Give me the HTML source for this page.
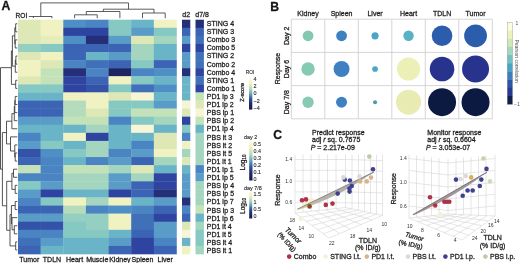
<!DOCTYPE html>
<html><head><meta charset="utf-8"><style>
html,body{margin:0;padding:0;background:#fff;overflow:hidden;}
svg{display:block;}
text{font-family:"Liberation Sans",Arial,sans-serif;fill:#1e1e1e;stroke:#1e1e1e;stroke-width:0.28px;}
.t7{font-size:7px;}
.t7i{font-size:7px;font-style:italic;}
.t6{font-size:6.4px;}
.t66{font-size:6.6px;}
.t5{font-size:5.4px;stroke-width:0.1px;}
.t6z{font-size:6px;}
.t65{font-size:6.5px;}
.t4{font-size:5px;stroke:none;fill:#333;}
.lab{font-size:12.2px;font-weight:bold;fill:#111;}
</style></head><body>
<svg width="520" height="263" viewBox="0 0 520 263">
<rect width="520" height="263" fill="#fff"/>
<rect x="18.00" y="19.70" width="22.94" height="8.38" fill="#dde8b6"/>
<rect x="40.64" y="19.70" width="22.94" height="8.38" fill="#f1f2c2"/>
<rect x="63.28" y="19.70" width="22.94" height="8.38" fill="#4e90c6"/>
<rect x="85.92" y="19.70" width="22.94" height="8.38" fill="#4a84c3"/>
<rect x="108.56" y="19.70" width="22.94" height="8.38" fill="#86c9c3"/>
<rect x="131.20" y="19.70" width="22.94" height="8.38" fill="#6ab4c8"/>
<rect x="153.84" y="19.70" width="22.94" height="8.38" fill="#f1f2c2"/>
<rect x="18.00" y="27.78" width="22.94" height="8.38" fill="#dde8b6"/>
<rect x="40.64" y="27.78" width="22.94" height="8.38" fill="#f1f2c2"/>
<rect x="63.28" y="27.78" width="22.94" height="8.38" fill="#2e44a0"/>
<rect x="85.92" y="27.78" width="22.94" height="8.38" fill="#2e44a0"/>
<rect x="108.56" y="27.78" width="22.94" height="8.38" fill="#86c9c3"/>
<rect x="131.20" y="27.78" width="22.94" height="8.38" fill="#5a9cc8"/>
<rect x="153.84" y="27.78" width="22.94" height="8.38" fill="#86c9c3"/>
<rect x="18.00" y="35.86" width="22.94" height="8.38" fill="#dde8b6"/>
<rect x="40.64" y="35.86" width="22.94" height="8.38" fill="#e6ecba"/>
<rect x="63.28" y="35.86" width="22.94" height="8.38" fill="#4e90c6"/>
<rect x="85.92" y="35.86" width="22.94" height="8.38" fill="#252e78"/>
<rect x="108.56" y="35.86" width="22.94" height="8.38" fill="#5a9cc8"/>
<rect x="131.20" y="35.86" width="22.94" height="8.38" fill="#dde8b6"/>
<rect x="153.84" y="35.86" width="22.94" height="8.38" fill="#a3d5bf"/>
<rect x="18.00" y="43.94" width="22.94" height="8.38" fill="#94cfc2"/>
<rect x="40.64" y="43.94" width="22.94" height="8.38" fill="#86c9c3"/>
<rect x="63.28" y="43.94" width="22.94" height="8.38" fill="#3c64b4"/>
<rect x="85.92" y="43.94" width="22.94" height="8.38" fill="#3c64b4"/>
<rect x="108.56" y="43.94" width="22.94" height="8.38" fill="#3c64b4"/>
<rect x="131.20" y="43.94" width="22.94" height="8.38" fill="#a3d5bf"/>
<rect x="153.84" y="43.94" width="22.94" height="8.38" fill="#6ab4c8"/>
<rect x="18.00" y="52.02" width="22.94" height="8.38" fill="#dde8b6"/>
<rect x="40.64" y="52.02" width="22.94" height="8.38" fill="#f1f2c2"/>
<rect x="63.28" y="52.02" width="22.94" height="8.38" fill="#3c64b4"/>
<rect x="85.92" y="52.02" width="22.94" height="8.38" fill="#6ab4c8"/>
<rect x="108.56" y="52.02" width="22.94" height="8.38" fill="#5a9cc8"/>
<rect x="131.20" y="52.02" width="22.94" height="8.38" fill="#a3d5bf"/>
<rect x="153.84" y="52.02" width="22.94" height="8.38" fill="#6ab4c8"/>
<rect x="18.00" y="60.10" width="22.94" height="8.38" fill="#f1f2c2"/>
<rect x="40.64" y="60.10" width="22.94" height="8.38" fill="#dde8b6"/>
<rect x="63.28" y="60.10" width="22.94" height="8.38" fill="#4a84c3"/>
<rect x="85.92" y="60.10" width="22.94" height="8.38" fill="#4070b8"/>
<rect x="108.56" y="60.10" width="22.94" height="8.38" fill="#3c64b4"/>
<rect x="131.20" y="60.10" width="22.94" height="8.38" fill="#86c9c3"/>
<rect x="153.84" y="60.10" width="22.94" height="8.38" fill="#3c64b4"/>
<rect x="18.00" y="68.18" width="22.94" height="8.38" fill="#f1f2c2"/>
<rect x="40.64" y="68.18" width="22.94" height="8.38" fill="#c4e2b8"/>
<rect x="63.28" y="68.18" width="22.94" height="8.38" fill="#252e78"/>
<rect x="85.92" y="68.18" width="22.94" height="8.38" fill="#4a84c3"/>
<rect x="108.56" y="68.18" width="22.94" height="8.38" fill="#1c2462"/>
<rect x="131.20" y="68.18" width="22.94" height="8.38" fill="#4a84c3"/>
<rect x="153.84" y="68.18" width="22.94" height="8.38" fill="#4e90c6"/>
<rect x="18.00" y="76.26" width="22.94" height="8.38" fill="#dde8b6"/>
<rect x="40.64" y="76.26" width="22.94" height="8.38" fill="#c4e2b8"/>
<rect x="63.28" y="76.26" width="22.94" height="8.38" fill="#2e44a0"/>
<rect x="85.92" y="76.26" width="22.94" height="8.38" fill="#3c64b4"/>
<rect x="108.56" y="76.26" width="22.94" height="8.38" fill="#f1f2c2"/>
<rect x="131.20" y="76.26" width="22.94" height="8.38" fill="#86c9c3"/>
<rect x="153.84" y="76.26" width="22.94" height="8.38" fill="#6ab4c8"/>
<rect x="18.00" y="84.34" width="22.94" height="8.38" fill="#86c9c3"/>
<rect x="40.64" y="84.34" width="22.94" height="8.38" fill="#86c9c3"/>
<rect x="63.28" y="84.34" width="22.94" height="8.38" fill="#2e44a0"/>
<rect x="85.92" y="84.34" width="22.94" height="8.38" fill="#3452a8"/>
<rect x="108.56" y="84.34" width="22.94" height="8.38" fill="#86c9c3"/>
<rect x="131.20" y="84.34" width="22.94" height="8.38" fill="#4070b8"/>
<rect x="153.84" y="84.34" width="22.94" height="8.38" fill="#4e90c6"/>
<rect x="18.00" y="92.42" width="22.94" height="8.38" fill="#6ab4c8"/>
<rect x="40.64" y="92.42" width="22.94" height="8.38" fill="#6ab4c8"/>
<rect x="63.28" y="92.42" width="22.94" height="8.38" fill="#f1f2c2"/>
<rect x="85.92" y="92.42" width="22.94" height="8.38" fill="#f1f2c2"/>
<rect x="108.56" y="92.42" width="22.94" height="8.38" fill="#dde8b6"/>
<rect x="131.20" y="92.42" width="22.94" height="8.38" fill="#f7f5d6"/>
<rect x="153.84" y="92.42" width="22.94" height="8.38" fill="#6ab4c8"/>
<rect x="18.00" y="100.50" width="22.94" height="8.38" fill="#3c64b4"/>
<rect x="40.64" y="100.50" width="22.94" height="8.38" fill="#3c64b4"/>
<rect x="63.28" y="100.50" width="22.94" height="8.38" fill="#b4dcbc"/>
<rect x="85.92" y="100.50" width="22.94" height="8.38" fill="#f1f2c2"/>
<rect x="108.56" y="100.50" width="22.94" height="8.38" fill="#86c9c3"/>
<rect x="131.20" y="100.50" width="22.94" height="8.38" fill="#86c9c3"/>
<rect x="153.84" y="100.50" width="22.94" height="8.38" fill="#5a9cc8"/>
<rect x="18.00" y="108.58" width="22.94" height="8.38" fill="#3c64b4"/>
<rect x="40.64" y="108.58" width="22.94" height="8.38" fill="#3c64b4"/>
<rect x="63.28" y="108.58" width="22.94" height="8.38" fill="#b4dcbc"/>
<rect x="85.92" y="108.58" width="22.94" height="8.38" fill="#dde8b6"/>
<rect x="108.56" y="108.58" width="22.94" height="8.38" fill="#86c9c3"/>
<rect x="131.20" y="108.58" width="22.94" height="8.38" fill="#c4e2b8"/>
<rect x="153.84" y="108.58" width="22.94" height="8.38" fill="#c4e2b8"/>
<rect x="18.00" y="116.66" width="22.94" height="8.38" fill="#5a9cc8"/>
<rect x="40.64" y="116.66" width="22.94" height="8.38" fill="#5a9cc8"/>
<rect x="63.28" y="116.66" width="22.94" height="8.38" fill="#c4e2b8"/>
<rect x="85.92" y="116.66" width="22.94" height="8.38" fill="#c4e2b8"/>
<rect x="108.56" y="116.66" width="22.94" height="8.38" fill="#4a84c3"/>
<rect x="131.20" y="116.66" width="22.94" height="8.38" fill="#86c9c3"/>
<rect x="153.84" y="116.66" width="22.94" height="8.38" fill="#a3d5bf"/>
<rect x="18.00" y="124.74" width="22.94" height="8.38" fill="#6ab4c8"/>
<rect x="40.64" y="124.74" width="22.94" height="8.38" fill="#6ab4c8"/>
<rect x="63.28" y="124.74" width="22.94" height="8.38" fill="#6ab4c8"/>
<rect x="85.92" y="124.74" width="22.94" height="8.38" fill="#a3d5bf"/>
<rect x="108.56" y="124.74" width="22.94" height="8.38" fill="#6ab4c8"/>
<rect x="131.20" y="124.74" width="22.94" height="8.38" fill="#f7f5d6"/>
<rect x="153.84" y="124.74" width="22.94" height="8.38" fill="#6ab4c8"/>
<rect x="18.00" y="132.82" width="22.94" height="8.38" fill="#4a84c3"/>
<rect x="40.64" y="132.82" width="22.94" height="8.38" fill="#6ab4c8"/>
<rect x="63.28" y="132.82" width="22.94" height="8.38" fill="#f1f2c2"/>
<rect x="85.92" y="132.82" width="22.94" height="8.38" fill="#2e44a0"/>
<rect x="108.56" y="132.82" width="22.94" height="8.38" fill="#6ab4c8"/>
<rect x="131.20" y="132.82" width="22.94" height="8.38" fill="#6ab4c8"/>
<rect x="153.84" y="132.82" width="22.94" height="8.38" fill="#dde8b6"/>
<rect x="18.00" y="140.90" width="22.94" height="8.38" fill="#5a9cc8"/>
<rect x="40.64" y="140.90" width="22.94" height="8.38" fill="#86c9c3"/>
<rect x="63.28" y="140.90" width="22.94" height="8.38" fill="#6ab4c8"/>
<rect x="85.92" y="140.90" width="22.94" height="8.38" fill="#a3d5bf"/>
<rect x="108.56" y="140.90" width="22.94" height="8.38" fill="#6ab4c8"/>
<rect x="131.20" y="140.90" width="22.94" height="8.38" fill="#4a84c3"/>
<rect x="153.84" y="140.90" width="22.94" height="8.38" fill="#dde8b6"/>
<rect x="18.00" y="148.98" width="22.94" height="8.38" fill="#3452a8"/>
<rect x="40.64" y="148.98" width="22.94" height="8.38" fill="#4e90c6"/>
<rect x="63.28" y="148.98" width="22.94" height="8.38" fill="#86c9c3"/>
<rect x="85.92" y="148.98" width="22.94" height="8.38" fill="#a3d5bf"/>
<rect x="108.56" y="148.98" width="22.94" height="8.38" fill="#4a84c3"/>
<rect x="131.20" y="148.98" width="22.94" height="8.38" fill="#5a9cc8"/>
<rect x="153.84" y="148.98" width="22.94" height="8.38" fill="#f1f2c2"/>
<rect x="18.00" y="157.06" width="22.94" height="8.38" fill="#3c64b4"/>
<rect x="40.64" y="157.06" width="22.94" height="8.38" fill="#4a84c3"/>
<rect x="63.28" y="157.06" width="22.94" height="8.38" fill="#6ab4c8"/>
<rect x="85.92" y="157.06" width="22.94" height="8.38" fill="#4a84c3"/>
<rect x="108.56" y="157.06" width="22.94" height="8.38" fill="#5a9cc8"/>
<rect x="131.20" y="157.06" width="22.94" height="8.38" fill="#3c64b4"/>
<rect x="153.84" y="157.06" width="22.94" height="8.38" fill="#a3d5bf"/>
<rect x="18.00" y="165.14" width="22.94" height="8.38" fill="#c4e2b8"/>
<rect x="40.64" y="165.14" width="22.94" height="8.38" fill="#4a84c3"/>
<rect x="63.28" y="165.14" width="22.94" height="8.38" fill="#c4e2b8"/>
<rect x="85.92" y="165.14" width="22.94" height="8.38" fill="#c4e2b8"/>
<rect x="108.56" y="165.14" width="22.94" height="8.38" fill="#a3d5bf"/>
<rect x="131.20" y="165.14" width="22.94" height="8.38" fill="#dde8b6"/>
<rect x="153.84" y="165.14" width="22.94" height="8.38" fill="#6ab4c8"/>
<rect x="18.00" y="173.22" width="22.94" height="8.38" fill="#4a84c3"/>
<rect x="40.64" y="173.22" width="22.94" height="8.38" fill="#4a84c3"/>
<rect x="63.28" y="173.22" width="22.94" height="8.38" fill="#a3d5bf"/>
<rect x="85.92" y="173.22" width="22.94" height="8.38" fill="#a3d5bf"/>
<rect x="108.56" y="173.22" width="22.94" height="8.38" fill="#5a9cc8"/>
<rect x="131.20" y="173.22" width="22.94" height="8.38" fill="#a3d5bf"/>
<rect x="153.84" y="173.22" width="22.94" height="8.38" fill="#2e44a0"/>
<rect x="18.00" y="181.30" width="22.94" height="8.38" fill="#86c9c3"/>
<rect x="40.64" y="181.30" width="22.94" height="8.38" fill="#5a9cc8"/>
<rect x="63.28" y="181.30" width="22.94" height="8.38" fill="#a3d5bf"/>
<rect x="85.92" y="181.30" width="22.94" height="8.38" fill="#a3d5bf"/>
<rect x="108.56" y="181.30" width="22.94" height="8.38" fill="#5a9cc8"/>
<rect x="131.20" y="181.30" width="22.94" height="8.38" fill="#3c64b4"/>
<rect x="153.84" y="181.30" width="22.94" height="8.38" fill="#2e44a0"/>
<rect x="18.00" y="189.38" width="22.94" height="8.38" fill="#5a9cc8"/>
<rect x="40.64" y="189.38" width="22.94" height="8.38" fill="#2e44a0"/>
<rect x="63.28" y="189.38" width="22.94" height="8.38" fill="#6ab4c8"/>
<rect x="85.92" y="189.38" width="22.94" height="8.38" fill="#6ab4c8"/>
<rect x="108.56" y="189.38" width="22.94" height="8.38" fill="#2e44a0"/>
<rect x="131.20" y="189.38" width="22.94" height="8.38" fill="#3c64b4"/>
<rect x="153.84" y="189.38" width="22.94" height="8.38" fill="#252e78"/>
<rect x="18.00" y="197.46" width="22.94" height="8.38" fill="#4a84c3"/>
<rect x="40.64" y="197.46" width="22.94" height="8.38" fill="#86c9c3"/>
<rect x="63.28" y="197.46" width="22.94" height="8.38" fill="#f1f2c2"/>
<rect x="85.92" y="197.46" width="22.94" height="8.38" fill="#a3d5bf"/>
<rect x="108.56" y="197.46" width="22.94" height="8.38" fill="#f1f2c2"/>
<rect x="131.20" y="197.46" width="22.94" height="8.38" fill="#6ab4c8"/>
<rect x="153.84" y="197.46" width="22.94" height="8.38" fill="#5a9cc8"/>
<rect x="18.00" y="205.54" width="22.94" height="8.38" fill="#3c64b4"/>
<rect x="40.64" y="205.54" width="22.94" height="8.38" fill="#3c64b4"/>
<rect x="63.28" y="205.54" width="22.94" height="8.38" fill="#b4dcbc"/>
<rect x="85.92" y="205.54" width="22.94" height="8.38" fill="#4a84c3"/>
<rect x="108.56" y="205.54" width="22.94" height="8.38" fill="#4e90c6"/>
<rect x="131.20" y="205.54" width="22.94" height="8.38" fill="#4a84c3"/>
<rect x="153.84" y="205.54" width="22.94" height="8.38" fill="#3c64b4"/>
<rect x="18.00" y="213.62" width="22.94" height="8.38" fill="#5a9cc8"/>
<rect x="40.64" y="213.62" width="22.94" height="8.38" fill="#5a9cc8"/>
<rect x="63.28" y="213.62" width="22.94" height="8.38" fill="#94cfc2"/>
<rect x="85.92" y="213.62" width="22.94" height="8.38" fill="#94cfc2"/>
<rect x="108.56" y="213.62" width="22.94" height="8.38" fill="#f1f2c2"/>
<rect x="131.20" y="213.62" width="22.94" height="8.38" fill="#4070b8"/>
<rect x="153.84" y="213.62" width="22.94" height="8.38" fill="#2e44a0"/>
<rect x="18.00" y="221.70" width="22.94" height="8.38" fill="#3452a8"/>
<rect x="40.64" y="221.70" width="22.94" height="8.38" fill="#3452a8"/>
<rect x="63.28" y="221.70" width="22.94" height="8.38" fill="#86c9c3"/>
<rect x="85.92" y="221.70" width="22.94" height="8.38" fill="#94cfc2"/>
<rect x="108.56" y="221.70" width="22.94" height="8.38" fill="#f1f2c2"/>
<rect x="131.20" y="221.70" width="22.94" height="8.38" fill="#4070b8"/>
<rect x="153.84" y="221.70" width="22.94" height="8.38" fill="#5a9cc8"/>
<rect x="18.00" y="229.78" width="22.94" height="8.38" fill="#4a84c3"/>
<rect x="40.64" y="229.78" width="22.94" height="8.38" fill="#4a84c3"/>
<rect x="63.28" y="229.78" width="22.94" height="8.38" fill="#86c9c3"/>
<rect x="85.92" y="229.78" width="22.94" height="8.38" fill="#86c9c3"/>
<rect x="108.56" y="229.78" width="22.94" height="8.38" fill="#6ab4c8"/>
<rect x="131.20" y="229.78" width="22.94" height="8.38" fill="#3c64b4"/>
<rect x="153.84" y="229.78" width="22.94" height="8.38" fill="#5a9cc8"/>
<rect x="18.00" y="237.86" width="22.94" height="8.38" fill="#4070b8"/>
<rect x="40.64" y="237.86" width="22.94" height="8.38" fill="#5a9cc8"/>
<rect x="63.28" y="237.86" width="22.94" height="8.38" fill="#6ab4c8"/>
<rect x="85.92" y="237.86" width="22.94" height="8.38" fill="#6ab4c8"/>
<rect x="108.56" y="237.86" width="22.94" height="8.38" fill="#5a9cc8"/>
<rect x="131.20" y="237.86" width="22.94" height="8.38" fill="#2e44a0"/>
<rect x="153.84" y="237.86" width="22.94" height="8.38" fill="#4a84c3"/>
<rect x="18.00" y="245.94" width="22.94" height="8.38" fill="#3c64b4"/>
<rect x="40.64" y="245.94" width="22.94" height="8.38" fill="#6ab4c8"/>
<rect x="63.28" y="245.94" width="22.94" height="8.38" fill="#6ab4c8"/>
<rect x="85.92" y="245.94" width="22.94" height="8.38" fill="#6ab4c8"/>
<rect x="108.56" y="245.94" width="22.94" height="8.38" fill="#3c64b4"/>
<rect x="131.20" y="245.94" width="22.94" height="8.38" fill="#2e44a0"/>
<rect x="153.84" y="245.94" width="22.94" height="8.38" fill="#3c64b4"/>
<rect x="182" y="19.70" width="8.3" height="8.38" fill="#252e78"/>
<rect x="182" y="27.78" width="8.3" height="8.38" fill="#3c64b4"/>
<rect x="182" y="35.86" width="8.3" height="8.38" fill="#5a9cc8"/>
<rect x="182" y="43.94" width="8.3" height="8.38" fill="#2e44a0"/>
<rect x="182" y="52.02" width="8.3" height="8.38" fill="#5a9cc8"/>
<rect x="182" y="60.10" width="8.3" height="8.38" fill="#5a9cc8"/>
<rect x="182" y="68.18" width="8.3" height="8.38" fill="#252e78"/>
<rect x="182" y="76.26" width="8.3" height="8.38" fill="#6ab4c8"/>
<rect x="182" y="84.34" width="8.3" height="8.38" fill="#6ab4c8"/>
<rect x="182" y="92.42" width="8.3" height="8.38" fill="#6ab4c8"/>
<rect x="182" y="100.50" width="8.3" height="8.38" fill="#f7f5d6"/>
<rect x="182" y="108.58" width="8.3" height="8.38" fill="#dde8b6"/>
<rect x="182" y="116.66" width="8.3" height="8.38" fill="#2e44a0"/>
<rect x="182" y="124.74" width="8.3" height="8.38" fill="#86c9c3"/>
<rect x="182" y="132.82" width="8.3" height="8.38" fill="#4a84c3"/>
<rect x="182" y="140.90" width="8.3" height="8.38" fill="#f1f2c2"/>
<rect x="182" y="148.98" width="8.3" height="8.38" fill="#a3d5bf"/>
<rect x="182" y="157.06" width="8.3" height="8.38" fill="#dde8b6"/>
<rect x="182" y="165.14" width="8.3" height="8.38" fill="#6ab4c8"/>
<rect x="182" y="173.22" width="8.3" height="8.38" fill="#5a9cc8"/>
<rect x="182" y="181.30" width="8.3" height="8.38" fill="#5a9cc8"/>
<rect x="182" y="189.38" width="8.3" height="8.38" fill="#5a9cc8"/>
<rect x="182" y="197.46" width="8.3" height="8.38" fill="#252e78"/>
<rect x="182" y="205.54" width="8.3" height="8.38" fill="#4a84c3"/>
<rect x="182" y="213.62" width="8.3" height="8.38" fill="#3c64b4"/>
<rect x="182" y="221.70" width="8.3" height="8.38" fill="#dde8b6"/>
<rect x="182" y="229.78" width="8.3" height="8.38" fill="#f7f5d6"/>
<rect x="182" y="237.86" width="8.3" height="8.38" fill="#6ab4c8"/>
<rect x="182" y="245.94" width="8.3" height="8.38" fill="#f1f2c2"/>
<rect x="195.5" y="19.70" width="8.4" height="8.38" fill="#252e78"/>
<rect x="195.5" y="27.78" width="8.4" height="8.38" fill="#3c64b4"/>
<rect x="195.5" y="35.86" width="8.4" height="8.38" fill="#4070b8"/>
<rect x="195.5" y="43.94" width="8.4" height="8.38" fill="#2e44a0"/>
<rect x="195.5" y="52.02" width="8.4" height="8.38" fill="#4070b8"/>
<rect x="195.5" y="60.10" width="8.4" height="8.38" fill="#4070b8"/>
<rect x="195.5" y="68.18" width="8.4" height="8.38" fill="#2e44a0"/>
<rect x="195.5" y="76.26" width="8.4" height="8.38" fill="#4070b8"/>
<rect x="195.5" y="84.34" width="8.4" height="8.38" fill="#2e44a0"/>
<rect x="195.5" y="92.42" width="8.4" height="8.38" fill="#c4e2b8"/>
<rect x="195.5" y="100.50" width="8.4" height="8.38" fill="#dde8b6"/>
<rect x="195.5" y="108.58" width="8.4" height="8.38" fill="#f7f5d6"/>
<rect x="195.5" y="116.66" width="8.4" height="8.38" fill="#c4e2b8"/>
<rect x="195.5" y="124.74" width="8.4" height="8.38" fill="#6ab4c8"/>
<rect x="195.5" y="132.82" width="8.4" height="8.38" fill="#a3d5bf"/>
<rect x="195.5" y="140.90" width="8.4" height="8.38" fill="#a3d5bf"/>
<rect x="195.5" y="148.98" width="8.4" height="8.38" fill="#a3d5bf"/>
<rect x="195.5" y="157.06" width="8.4" height="8.38" fill="#a3d5bf"/>
<rect x="195.5" y="165.14" width="8.4" height="8.38" fill="#4a84c3"/>
<rect x="195.5" y="173.22" width="8.4" height="8.38" fill="#5a9cc8"/>
<rect x="195.5" y="181.30" width="8.4" height="8.38" fill="#a3d5bf"/>
<rect x="195.5" y="189.38" width="8.4" height="8.38" fill="#a3d5bf"/>
<rect x="195.5" y="197.46" width="8.4" height="8.38" fill="#a3d5bf"/>
<rect x="195.5" y="205.54" width="8.4" height="8.38" fill="#c4e2b8"/>
<rect x="195.5" y="213.62" width="8.4" height="8.38" fill="#6ab4c8"/>
<rect x="195.5" y="221.70" width="8.4" height="8.38" fill="#a3d5bf"/>
<rect x="195.5" y="229.78" width="8.4" height="8.38" fill="#86c9c3"/>
<rect x="195.5" y="237.86" width="8.4" height="8.38" fill="#86c9c3"/>
<rect x="195.5" y="245.94" width="8.4" height="8.38" fill="#a3d5bf"/>
<text x="206.8" y="26.00" class="t7">STING 4</text>
<text x="206.8" y="34.11" class="t7">STING 3</text>
<text x="206.8" y="42.22" class="t7">Combo 3</text>
<text x="206.8" y="50.33" class="t7">Combo 5</text>
<text x="206.8" y="58.44" class="t7">STING 2</text>
<text x="206.8" y="66.55" class="t7">Combo 2</text>
<text x="206.8" y="74.66" class="t7">Combo 4</text>
<text x="206.8" y="82.77" class="t7">STING 1</text>
<text x="206.8" y="90.88" class="t7">Combo 1</text>
<text x="206.8" y="98.99" class="t7">PD1 ip 3</text>
<text x="206.8" y="107.10" class="t7">PD1 ip 2</text>
<text x="206.8" y="115.21" class="t7">PBS ip 1</text>
<text x="206.8" y="123.32" class="t7">PBS ip 2</text>
<text x="206.8" y="131.43" class="t7">PD1 ip 4</text>
<text x="206.8" y="139.54" class="t7">PBS it 3</text>
<text x="206.8" y="147.65" class="t7">PBS it 2</text>
<text x="206.8" y="155.76" class="t7">PBS it 5</text>
<text x="206.8" y="163.87" class="t7">PD1 it 1</text>
<text x="206.8" y="171.98" class="t7">PD1 ip 1</text>
<text x="206.8" y="180.09" class="t7">PD1 ip 5</text>
<text x="206.8" y="188.20" class="t7">PBS ip 4</text>
<text x="206.8" y="196.31" class="t7">PBS ip 5</text>
<text x="206.8" y="204.42" class="t7">PD1 ip 7</text>
<text x="206.8" y="212.53" class="t7">PBS ip 3</text>
<text x="206.8" y="220.64" class="t7">PD1 ip 6</text>
<text x="206.8" y="228.75" class="t7">PD1 it 4</text>
<text x="206.8" y="236.86" class="t7">PD1 it 5</text>
<text x="206.8" y="244.97" class="t7">PBS it 4</text>
<text x="206.8" y="253.08" class="t7">PBS it 1</text>
<text x="29.32" y="261.5" class="t7" text-anchor="middle">Tumor</text>
<text x="51.96" y="261.5" class="t7" text-anchor="middle">TDLN</text>
<text x="74.60" y="261.5" class="t7" text-anchor="middle">Heart</text>
<text x="97.24" y="261.5" class="t7" text-anchor="middle">Muscle</text>
<text x="119.88" y="261.5" class="t7" text-anchor="middle">Kidney</text>
<text x="142.52" y="261.5" class="t7" text-anchor="middle">Spleen</text>
<text x="165.16" y="261.5" class="t7" text-anchor="middle">Liver</text>
<text x="186.2" y="17.3" class="t7" text-anchor="middle">d2</text>
<text x="195.3" y="17.3" class="t7">d7/8</text>
<path d="M40.8 2.9L128.5 2.9 M40.8 2.9L40.8 16.5 M128.5 2.9L128.5 9.2 M103.3 9.2L154.0 9.2 M103.3 9.2L103.3 11.5 M154.0 9.2L154.0 13.0 M86.3 11.5L119.9 11.5 M86.3 11.5L86.3 14.8 M119.9 11.5L119.9 18.2 M74.6 14.8L97.2 14.8 M74.6 14.8L74.6 18.2 M97.2 14.8L97.2 18.2 M142.5 13.0L165.2 13.0 M142.5 13.0L142.5 18.2 M165.2 13.0L165.2 18.2 M28.8 16.5L52.0 16.5 M33.4 16.5L33.4 18.0 M52.0 16.5L52.0 18.2" stroke="#333" stroke-width="0.8" fill="none"/>
<text x="15.5" y="18" class="t66">ROI</text>
<text x="1.4" y="10.4" class="lab">A</text>
<path d="M15.70 23.74L17.30 23.74 M15.70 31.82L17.30 31.82 M15.70 23.74L15.70 31.82 M15.20 39.90L17.30 39.90 M15.20 47.98L17.30 47.98 M15.20 39.90L15.20 47.98 M14.80 27.78L15.70 27.78 M14.80 43.94L15.20 43.94 M14.80 27.78L14.80 43.94 M15.90 56.06L17.30 56.06 M15.90 64.14L17.30 64.14 M15.90 56.06L15.90 64.14 M15.30 60.10L15.90 60.10 M15.30 72.22L17.30 72.22 M15.30 60.10L15.30 72.22 M12.40 35.86L14.80 35.86 M12.40 66.16L15.30 66.16 M12.40 35.86L12.40 66.16 M15.70 80.30L17.30 80.30 M15.70 88.38L17.30 88.38 M15.70 80.30L15.70 88.38 M11.40 51.01L12.40 51.01 M11.40 84.34L15.70 84.34 M11.40 51.01L11.40 84.34 M15.20 96.46L17.30 96.46 M15.20 104.54L17.30 104.54 M15.20 96.46L15.20 104.54 M14.80 100.50L15.20 100.50 M14.80 112.62L17.30 112.62 M14.80 100.50L14.80 112.62 M14.30 106.56L14.80 106.56 M14.30 120.70L17.30 120.70 M14.30 106.56L14.30 120.70 M11.90 113.63L14.30 113.63 M11.90 128.78L17.30 128.78 M11.90 113.63L11.90 128.78 M15.20 153.02L17.30 153.02 M15.20 161.10L17.30 161.10 M15.20 153.02L15.20 161.10 M14.80 144.94L17.30 144.94 M14.80 157.06L15.20 157.06 M14.80 144.94L14.80 157.06 M10.50 136.86L17.30 136.86 M10.50 151.00L14.80 151.00 M10.50 136.86L10.50 151.00 M6.50 121.20L11.90 121.20 M6.50 143.93L10.50 143.93 M6.50 121.20L6.50 143.93 M13.50 169.18L17.30 169.18 M13.50 177.26L17.30 177.26 M13.50 169.18L13.50 177.26 M15.20 185.34L17.30 185.34 M15.20 193.42L17.30 193.42 M15.20 185.34L15.20 193.42 M11.90 173.22L13.50 173.22 M11.90 189.38L15.20 189.38 M11.90 173.22L11.90 189.38 M15.20 201.50L17.30 201.50 M15.20 209.58L17.30 209.58 M15.20 201.50L15.20 209.58 M14.30 225.74L17.30 225.74 M14.30 233.82L17.30 233.82 M14.30 225.74L14.30 233.82 M12.00 217.66L17.30 217.66 M12.00 229.78L14.30 229.78 M12.00 217.66L12.00 229.78 M11.40 205.54L15.20 205.54 M11.40 223.72L12.00 223.72 M11.40 205.54L11.40 223.72 M15.70 241.90L17.30 241.90 M15.70 249.98L17.30 249.98 M15.70 241.90L15.70 249.98 M10.00 214.63L11.40 214.63 M10.00 245.94L15.70 245.94 M10.00 214.63L10.00 245.94 M6.70 181.30L11.90 181.30 M6.70 230.28L10.00 230.28 M6.70 181.30L6.70 230.28 M2.40 132.57L6.50 132.57 M2.40 205.79L6.70 205.79 M2.40 132.57L2.40 205.79 M0.50 67.67L11.40 67.67 M0.50 169.18L2.40 169.18 M0.50 67.67L0.50 169.18 M0.00 118.43L0.50 118.43" stroke="#2a2a2a" stroke-width="0.8" fill="none"/>
<defs><linearGradient id="ylgnbu" x1="0" y1="0" x2="0" y2="1"><stop offset="0" stop-color="#ffffd9"/><stop offset="0.125" stop-color="#edf8b1"/><stop offset="0.25" stop-color="#c7e9b4"/><stop offset="0.375" stop-color="#7fcdbb"/><stop offset="0.5" stop-color="#41b6c4"/><stop offset="0.625" stop-color="#1d91c0"/><stop offset="0.75" stop-color="#225ea8"/><stop offset="0.875" stop-color="#253494"/><stop offset="1" stop-color="#081d58"/></linearGradient><linearGradient id="ylgnbu2" x1="0" y1="0" x2="0" y2="1"><stop offset="0" stop-color="#fdfbe0"/><stop offset="0.18" stop-color="#eef0bc"/><stop offset="0.35" stop-color="#b4d8bc"/><stop offset="0.5" stop-color="#6aa6bc"/><stop offset="0.65" stop-color="#33589c"/><stop offset="0.8" stop-color="#212c6c"/><stop offset="1" stop-color="#121a48"/></linearGradient></defs>
<text x="245.8" y="73.8" class="t5" style="font-size:4.8px">ROI</text>
<rect x="249" y="78.3" width="3.3" height="31.3" fill="url(#ylgnbu2)"/>
<text x="253.5" y="80.5" class="t5">4</text>
<text x="253.5" y="87.8" class="t5">2</text>
<text x="253.5" y="95.4" class="t5">0</text>
<text x="253.5" y="102.9" class="t5">−2</text>
<text x="253.5" y="110.4" class="t5">−4</text>
<text transform="translate(244.2,92.3) rotate(-90)" class="t6z" style="font-size:5.6px" text-anchor="middle">Z-score</text>
<text x="244" y="139.2" class="t5">day 2</text>
<rect x="249.2" y="140.5" width="3.3" height="40" fill="url(#ylgnbu2)"/>
<text x="253.6" y="145.5" class="t5">0.5</text>
<text x="253.6" y="152.5" class="t5">0.4</text>
<text x="253.6" y="159.5" class="t5">0.3</text>
<text x="253.6" y="166.5" class="t5">0.2</text>
<text x="253.6" y="173.5" class="t5">0.1</text>
<text x="253.6" y="180.5" class="t5">0</text>
<text transform="translate(245.2,162.5) rotate(-90)" class="t65" text-anchor="middle">Log<tspan font-size="4.6" dy="1.2">10</tspan></text>
<text x="244" y="190.3" class="t5">day 7/8</text>
<rect x="249.2" y="191.2" width="3" height="27.3" fill="url(#ylgnbu2)"/>
<text x="253.6" y="195.5" class="t5">1.5</text>
<text x="253.6" y="203.6" class="t5">1</text>
<text x="253.6" y="211" class="t5">0.5</text>
<text x="253.6" y="217.8" class="t5">0</text>
<text transform="translate(245.2,206) rotate(-90)" class="t65" text-anchor="middle">Log<tspan font-size="4.6" dy="1.2">10</tspan></text>
<text x="270.2" y="10.6" class="lab">B</text>
<text x="308.05" y="15.6" class="t7" text-anchor="middle">Kidney</text>
<text x="341.55" y="15.6" class="t7" text-anchor="middle">Spleen</text>
<text x="375.05" y="15.6" class="t7" text-anchor="middle">Liver</text>
<text x="408.55" y="15.6" class="t7" text-anchor="middle">Heart</text>
<text x="442.05" y="15.6" class="t7" text-anchor="middle">TDLN</text>
<text x="475.55" y="15.6" class="t7" text-anchor="middle">Tumor</text>
<path d="M291.30 19.2V118.80M324.80 19.2V118.80M358.30 19.2V118.80M391.80 19.2V118.80M425.30 19.2V118.80M458.80 19.2V118.80M492.30 19.2V118.80M291.3 19.20H492.30M291.3 52.40H492.30M291.3 85.60H492.30M291.3 118.80H492.30" stroke="#cbcbcb" stroke-width="0.8" fill="none"/>
<text transform="translate(288.6,35.80) rotate(-90)" class="t7" text-anchor="middle">Day 2</text>
<text transform="translate(288.6,69.00) rotate(-90)" class="t7" text-anchor="middle">Day 6</text>
<text transform="translate(288.6,102.20) rotate(-90)" class="t7" text-anchor="middle">Day 7/8</text>
<text transform="translate(279.8,68.5) rotate(-90)" class="t7" text-anchor="middle">Response</text>
<circle cx="308.05" cy="35.80" r="5.4" fill="#82c8b2"/>
<circle cx="341.55" cy="35.80" r="5.4" fill="#3e80c0"/>
<circle cx="375.05" cy="35.80" r="3.6" fill="#4aa4c4"/>
<circle cx="408.55" cy="35.80" r="5.2" fill="#56b2c4"/>
<circle cx="442.05" cy="35.80" r="10.3" fill="#2c5cac"/>
<circle cx="475.55" cy="35.80" r="11.4" fill="#2c5cac"/>
<circle cx="308.05" cy="69.00" r="6.7" fill="#86cab4"/>
<circle cx="341.55" cy="69.00" r="8.0" fill="#3e80c0"/>
<circle cx="375.05" cy="69.00" r="2.85" fill="#4aa8c4"/>
<circle cx="408.55" cy="69.00" r="11.6" fill="#ecefb6"/>
<circle cx="442.05" cy="69.00" r="12.3" fill="#28338e"/>
<circle cx="475.55" cy="69.00" r="13.5" fill="#28338e"/>
<circle cx="308.05" cy="102.20" r="5.7" fill="#86cab4"/>
<circle cx="341.55" cy="102.20" r="5.5" fill="#3e80c0"/>
<circle cx="375.05" cy="102.20" r="2.0" fill="#4a9ab0"/>
<circle cx="408.55" cy="102.20" r="12.5" fill="#e8ebb2"/>
<circle cx="442.05" cy="102.20" r="14.0" fill="#0c1a42"/>
<circle cx="475.55" cy="102.20" r="14.0" fill="#0c1a42"/>
<rect x="507.2" y="22.20" width="5.4" height="8.40" fill="#fcfcde"/>
<rect x="507.2" y="30.40" width="5.4" height="8.40" fill="#eef2bc"/>
<rect x="507.2" y="38.60" width="5.4" height="8.40" fill="#cfe8b6"/>
<rect x="507.2" y="46.80" width="5.4" height="8.40" fill="#a4d7bc"/>
<rect x="507.2" y="55.00" width="5.4" height="8.40" fill="#74c1c4"/>
<rect x="507.2" y="63.20" width="5.4" height="8.40" fill="#46a6c6"/>
<rect x="507.2" y="71.40" width="5.4" height="8.40" fill="#3a7ebd"/>
<rect x="507.2" y="79.60" width="5.4" height="8.40" fill="#2d56a6"/>
<rect x="507.2" y="87.80" width="5.4" height="8.40" fill="#28398f"/>
<rect x="507.2" y="96.00" width="5.4" height="8.40" fill="#0f1f4e"/>
<rect x="507.2" y="22.2" width="5.4" height="82" fill="none" stroke="#999" stroke-width="0.4"/>
<text x="515.5" y="24.5" class="t4" style="fill:#555">1</text>
<text x="514" y="106" class="t4" style="fill:#555">−1</text>
<text transform="translate(515.2,39.5) rotate(90)" class="t4" style="fill:#555">Pearson correlation</text>
<text x="273.2" y="138.9" class="lab">C</text>
<text x="312" y="134.9" class="t7">Predict response</text>
<text x="312" y="141.8" class="t7">adj <tspan font-style="italic">r</tspan> sq. 0.7675</text>
<text x="310.7" y="150.2" class="t7"><tspan font-style="italic">P</tspan> = 2.217e-09</text>
<text x="427.3" y="134.9" class="t7">Monitor response</text>
<text x="427.3" y="141.8" class="t7">adj <tspan font-style="italic">r</tspan> sq. 0.6604</text>
<text x="426.0" y="150.2" class="t7"><tspan font-style="italic">P</tspan> = 3.053e-07</text>
<path d="M295.0 154.5V213.0M303.0 154.5V212.1M311.0 154.5V211.3M319.0 154.5V210.4M327.5 154.5V209.5M336.0 154.5V208.5M345.5 154.5V207.5M352.0 154.5V208.9M358.5 154.5V210.3M364.5 154.5V211.6M370.5 154.5V212.9M376.5 154.5V214.2M382.5 154.5V215.5M295.0 159.5L345.5 159.5L382.5 160.5M295.0 170.3L345.5 170.3L382.5 171.3M295.0 181.1L345.5 181.1L382.5 182.1M295.0 191.9L345.5 191.9L382.5 192.9M295.0 202.7L345.5 202.7L382.5 203.7M295.0 213.0L329.0 238.0M305.1 211.9L339.7 233.5M315.2 210.8L350.4 229.0M325.3 209.7L361.1 224.5M335.4 208.6L371.8 220.0M345.5 207.5L382.5 215.5M295.0 213.0L345.5 207.5M300.7 217.2L351.7 208.8M306.3 221.3L357.8 210.2M312.0 225.5L364.0 211.5M317.7 229.7L370.2 212.8M323.3 233.8L376.3 214.2M329.0 238.0L382.5 215.5" stroke="#d2d2d2" stroke-width="0.55" fill="none"/>
<linearGradient id="bandL" gradientUnits="userSpaceOnUse" x1="297.5" y1="209.5" x2="374" y2="172.3"><stop offset="0" stop-color="#d8cca0"/><stop offset="0.35" stop-color="#b4b2aa"/><stop offset="1" stop-color="#a9a8a8"/></linearGradient>
<ellipse cx="309" cy="203" rx="7" ry="3.8500000000000005" fill="#f6ecc8" opacity="0.8" transform="rotate(-28 309 203)"/>
<path d="M297.35 209.19L300.53 207.64L303.72 206.09L306.91 204.54L310.10 202.99L313.28 201.44L316.47 199.89L319.66 198.34L322.85 196.79L326.03 195.24L329.22 193.69L332.41 192.14L335.60 190.59L338.78 189.04L341.97 187.49L345.16 185.94L348.35 184.39L351.53 182.84L354.72 181.29L357.91 179.74L361.10 178.19L364.28 176.64L367.47 175.09L370.66 173.54L373.85 171.99L374.15 172.61L370.97 174.16L367.87 175.91L364.95 178.01L361.98 180.01L358.99 181.95L355.97 183.84L352.92 185.69L349.86 187.50L346.77 189.26L343.67 190.97L340.54 192.64L337.38 194.25L334.20 195.82L331.00 197.34L327.77 198.81L324.53 200.24L321.25 201.61L317.96 202.94L314.64 204.23L311.31 205.47L307.95 206.67L304.56 207.82L301.15 208.90L297.65 209.81Z" fill="url(#bandL)"/>
<path d="M297.35 209.19L373.85 171.99" stroke="#7c7c7a" stroke-width="0.9"/>
<circle cx="302" cy="200.3" r="2.3" fill="#ad3348"/>
<circle cx="306" cy="199.4" r="2.3" fill="#ad3348"/>
<circle cx="325.8" cy="204.9" r="2.3" fill="#ad3348"/>
<circle cx="332.5" cy="203.6" r="2.3" fill="#ad3348"/>
<circle cx="309.6" cy="206.4" r="2.3" fill="#8a4a2a"/>
<circle cx="337.7" cy="193.6" r="2.3" fill="#40408f"/>
<circle cx="344.7" cy="179.6" r="2.3" fill="#40408f"/>
<circle cx="349.9" cy="180.5" r="2.3" fill="#40408f"/>
<circle cx="351.7" cy="186" r="2.3" fill="#40408f"/>
<circle cx="349.4" cy="188.6" r="2.3" fill="#40408f"/>
<circle cx="349.6" cy="191.6" r="2.3" fill="#40408f"/>
<circle cx="373" cy="169.2" r="2.3" fill="#40408f"/>
<circle cx="360.2" cy="181.4" r="2.3" fill="#d6b68e"/>
<circle cx="366.8" cy="181.4" r="2.3" fill="#d6b68e"/>
<circle cx="371" cy="177.6" r="2.3" fill="#d6b68e"/>
<circle cx="343.4" cy="177.4" r="2.3" fill="#dadada"/>
<circle cx="359.4" cy="176.4" r="2.3" fill="#dadada"/>
<circle cx="369.3" cy="156.6" r="2.3" fill="#bacea2"/>
<circle cx="300.8" cy="218.8" r="2.3" fill="#f4f2d6"/>
<text x="289.4" y="221.9" class="t4">18</text>
<text x="298.5" y="230.4" class="t4">14</text>
<text x="308.4" y="237.9" class="t4">10</text>
<text x="329" y="245.3" class="t4">22</text>
<text x="349.7" y="237.7" class="t4">18</text>
<text x="366.6" y="231.5" class="t4">14</text>
<text x="381.6" y="225.9" class="t4">10</text>
<text transform="translate(284.6,230.3) rotate(44)" class="t7i" style="font-size:7px">Tumor</text>
<text transform="translate(277.3,234.8) rotate(47)" class="t7" style="font-size:6.4px">(% ID/g)</text>
<text x="367.8" y="242.5" class="t7" text-anchor="middle">TDLN</text>
<text x="367.8" y="250.1" class="t7" text-anchor="middle">(% ID/g)</text>
<path d="M409.0 154.5V218.0M416.5 155.4V217.2M424.0 156.2V216.5M431.5 157.1V215.7M439.0 158.0V214.9M448.0 159.0V214.0M456.0 158.2V214.3M463.5 157.5V214.7M471.0 156.8V215.0M478.5 156.1V215.3M486.0 155.4V215.6M495.0 154.5V216.0M409.0 158.5L448.0 163.0L495.0 158.5M409.0 170.5L448.0 175.0L495.0 170.5M409.0 182.5L448.0 187.0L495.0 182.5M409.0 194.3L448.0 198.8L495.0 194.3M409.0 206.0L448.0 210.5L495.0 206.0M409.0 218.0L462.0 240.0M416.8 217.2L468.6 235.2M424.6 216.4L475.2 230.4M432.4 215.6L481.8 225.6M440.2 214.8L488.4 220.8M448.0 214.0L495.0 216.0M409.0 218.0L448.0 214.0M417.8 221.7L455.8 214.3M426.7 225.3L463.7 214.7M435.5 229.0L471.5 215.0M444.3 232.7L479.3 215.3M453.2 236.3L487.2 215.7M462.0 240.0L495.0 216.0" stroke="#d2d2d2" stroke-width="0.55" fill="none"/>
<linearGradient id="bandR" gradientUnits="userSpaceOnUse" x1="413" y1="215" x2="487" y2="172.5"><stop offset="0" stop-color="#a88a84"/><stop offset="0.35" stop-color="#a89494"/><stop offset="1" stop-color="#9a98ac"/></linearGradient>
<path d="M412.83 214.70L415.91 212.93L418.99 211.15L422.08 209.38L425.16 207.61L428.24 205.84L431.33 204.07L434.41 202.30L437.49 200.53L440.58 198.76L443.66 196.99L446.74 195.22L449.83 193.45L452.91 191.68L455.99 189.90L459.08 188.13L462.16 186.36L465.24 184.59L468.33 182.82L471.41 181.05L474.49 179.28L477.58 177.51L480.66 175.74L483.74 173.97L486.83 172.20L487.17 172.80L484.09 174.57L481.08 176.47L478.20 178.60L475.29 180.67L472.35 182.69L469.40 184.69L466.43 186.65L463.44 188.59L460.43 190.50L457.41 192.37L454.37 194.22L451.31 196.04L448.24 197.82L445.14 199.57L442.03 201.29L438.90 202.98L435.75 204.64L432.58 206.26L429.40 207.86L426.20 209.43L422.99 210.97L419.75 212.48L416.50 213.95L413.17 215.30Z" fill="url(#bandR)"/>
<path d="M412.83 214.70L486.83 172.20" stroke="#6e6a70" stroke-width="0.9"/>
<circle cx="430" cy="197.3" r="2.3" fill="#ad3348"/>
<circle cx="435.2" cy="205.5" r="2.3" fill="#ad3348"/>
<circle cx="444.4" cy="201.8" r="2.3" fill="#ad3348"/>
<circle cx="446.8" cy="201.8" r="2.3" fill="#ad3348"/>
<circle cx="449.3" cy="201.8" r="2.3" fill="#ad3348"/>
<circle cx="456" cy="179.6" r="2.3" fill="#40408f"/>
<circle cx="462.7" cy="195.7" r="2.3" fill="#40408f"/>
<circle cx="467.6" cy="190.5" r="2.3" fill="#40408f"/>
<circle cx="472.7" cy="190.5" r="2.3" fill="#40408f"/>
<circle cx="479.8" cy="186" r="2.3" fill="#40408f"/>
<circle cx="481.3" cy="179.6" r="2.3" fill="#40408f"/>
<circle cx="486.5" cy="168.9" r="2.3" fill="#40408f"/>
<circle cx="471.2" cy="177.4" r="2.3" fill="#dcae5c"/>
<circle cx="460.5" cy="179" r="2.3" fill="#dadada"/>
<circle cx="465.7" cy="176" r="2.3" fill="#dadada"/>
<circle cx="483.4" cy="158.5" r="2.3" fill="#c4d4a8"/>
<circle cx="490" cy="181.4" r="2.3" fill="#cfdcb8"/>
<circle cx="440.7" cy="214" r="2.3" fill="#f4f2d6"/>
<text x="406.9" y="227.9" class="t4">10</text>
<text x="420.9" y="232.4" class="t4">8</text>
<text x="437.3" y="237.1" class="t4">6</text>
<text x="453.8" y="241.5" class="t4">4</text>
<text x="471.9" y="240.2" class="t4">24</text>
<text x="480.4" y="233.1" class="t4">20</text>
<text x="488" y="226.9" class="t4">16</text>
<text x="494.1" y="223" class="t4">14</text>
<text transform="translate(404.8,236.3) rotate(16)" class="t7i" style="font-size:6.7px">Tumor</text>
<text transform="translate(398.3,244.3) rotate(11)" class="t7" style="font-size:6.6px">(% ID/g)</text>
<text x="492.6" y="240.2" class="t7" text-anchor="middle">TDLN</text>
<text x="492.6" y="247.79999999999998" class="t7" text-anchor="middle">(% ID/g)</text>
<text transform="translate(395.8,188.8) rotate(-90)" class="t7" text-anchor="middle">Response</text>
<text transform="translate(279.6,190.1) rotate(-90)" class="t7" text-anchor="middle">Response</text>
<text x="285.3" y="161" class="t4">1.4</text>
<text x="285.3" y="183" class="t4">1.0</text>
<text x="285.3" y="204.3" class="t4">0.6</text>
<text x="399.8" y="160.3" class="t4">1.4</text>
<text x="399.8" y="184.2" class="t4">1.0</text>
<text x="399.8" y="207.6" class="t4">0.6</text>
<circle cx="289.2" cy="256.6" r="2.3" fill="#ad3348"/>
<text x="293.8" y="259.2" class="t7">Combo</text>
<circle cx="325.6" cy="256.6" r="2.3" fill="#f4f2d6"/>
<text x="330.20000000000005" y="259.2" class="t7">STING i.t.</text>
<circle cx="366.8" cy="256.6" r="2.3" fill="#d6b68e"/>
<text x="371.40000000000003" y="259.2" class="t7">PD1 i.t.</text>
<circle cx="408" cy="256.6" r="2.3" fill="#dadada"/>
<text x="412.6" y="259.2" class="t7">PBS i.t.</text>
<circle cx="445.4" cy="256.6" r="2.3" fill="#40408f"/>
<text x="450.0" y="259.2" class="t7">PD1 i.p.</text>
<circle cx="485.4" cy="256.6" r="2.3" fill="#bacea2"/>
<text x="490.0" y="259.2" class="t7">PBS i.p.</text>
</svg>
</body></html>
